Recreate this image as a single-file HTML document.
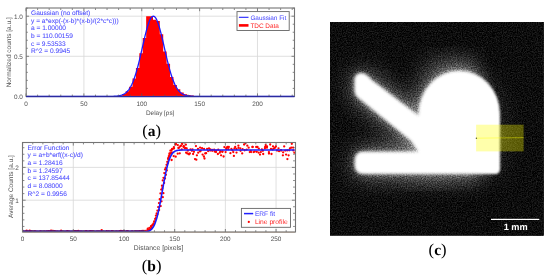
<!DOCTYPE html>
<html><head><meta charset="utf-8"><title>Figure</title>
<style>html,body{margin:0;padding:0;background:#fff;}body{width:550px;height:280px;overflow:hidden;}svg{display:block;}</style>
</head><body>
<svg width="550" height="280" viewBox="0 0 550 280" text-rendering="geometricPrecision">
<defs>
<filter id="blur1" x="-20%" y="-20%" width="140%" height="140%"><feGaussianBlur stdDeviation="1.7"/></filter>
<filter id="halo" x="-50%" y="-50%" width="200%" height="200%"><feGaussianBlur stdDeviation="13"/></filter>
<filter id="halo2" x="-50%" y="-50%" width="200%" height="200%"><feGaussianBlur stdDeviation="5"/></filter>
<filter id="noise" x="0" y="0" width="100%" height="100%">
  <feTurbulence type="fractalNoise" baseFrequency="0.75" numOctaves="2" seed="3" result="t"/>
  <feColorMatrix in="t" type="matrix" values="0 0 0 0 1  0 0 0 0 1  0 0 0 0 1  0.5 0 0 0 -0.2" />
</filter>
<clipPath id="clipA"><rect x="26.03" y="8.2" width="268.47" height="88.2"/></clipPath>
<clipPath id="clipB"><rect x="22.62" y="142.6" width="272.28" height="89.4"/></clipPath>
<clipPath id="clipC"><rect x="330" y="22" width="213.6" height="213.6"/></clipPath>
</defs>
<rect width="550" height="280" fill="#fff"/>
<g font-family="'Liberation Sans', Arial, sans-serif"><line x1="83.9" y1="8.2" x2="83.9" y2="96.4" stroke="#d8d8d8" stroke-width="0.8"/>
<line x1="141.76" y1="8.2" x2="141.76" y2="96.4" stroke="#d8d8d8" stroke-width="0.8"/>
<line x1="199.62" y1="8.2" x2="199.62" y2="96.4" stroke="#d8d8d8" stroke-width="0.8"/>
<line x1="257.49" y1="8.2" x2="257.49" y2="96.4" stroke="#d8d8d8" stroke-width="0.8"/>
<line x1="26.03" y1="56.3" x2="294.5" y2="56.3" stroke="#d8d8d8" stroke-width="0.8"/>
<line x1="26.03" y1="16.2" x2="294.5" y2="16.2" stroke="#d8d8d8" stroke-width="0.8"/>
<path d="M115.43,96.4 L115.43,96.03 L118.85,96.03 L118.85,95.39 L122.26,95.39 L122.26,94.05 L125.67,94.05 L125.67,91.19 L129.09,91.19 L129.09,86.75 L132.5,86.75 L132.5,78.58 L135.92,78.58 L135.92,67.89 L139.33,67.89 L139.33,53.15 L142.74,53.15 L142.74,38.06 L146.16,38.06 L146.16,16.2 L149.57,16.2 L149.57,16.2 L152.99,16.2 L152.99,19.81 L156.4,19.81 L156.4,20.93 L159.81,20.93 L159.81,34.2 L163.23,34.2 L163.23,51.5 L166.64,51.5 L166.64,63.86 L170.06,63.86 L170.06,77.09 L173.47,77.09 L173.47,84.98 L176.88,84.98 L176.88,89.17 L180.3,89.17 L180.3,92.58 L183.71,92.58 L183.71,94.31 L187.13,94.31 L187.13,95.1 L190.54,95.1 L190.54,95.42 L193.95,95.42 L193.95,96.4 Z" fill="#ff0000" clip-path="url(#clipA)"/>
<polyline points="26.03,96.4 26.61,96.4 27.19,96.4 27.77,96.4 28.34,96.4 28.92,96.4 29.5,96.4 30.08,96.4 30.66,96.4 31.24,96.4 31.82,96.4 32.4,96.4 32.97,96.4 33.55,96.4 34.13,96.4 34.71,96.4 35.29,96.4 35.87,96.4 36.45,96.4 37.02,96.4 37.6,96.4 38.18,96.4 38.76,96.4 39.34,96.4 39.92,96.4 40.5,96.4 41.07,96.4 41.65,96.4 42.23,96.4 42.81,96.4 43.39,96.4 43.97,96.4 44.55,96.4 45.13,96.4 45.7,96.4 46.28,96.4 46.86,96.4 47.44,96.4 48.02,96.4 48.6,96.4 49.18,96.4 49.75,96.4 50.33,96.4 50.91,96.4 51.49,96.4 52.07,96.4 52.65,96.4 53.23,96.4 53.81,96.4 54.38,96.4 54.96,96.4 55.54,96.4 56.12,96.4 56.7,96.4 57.28,96.4 57.86,96.4 58.43,96.4 59.01,96.4 59.59,96.4 60.17,96.4 60.75,96.4 61.33,96.4 61.91,96.4 62.48,96.4 63.06,96.4 63.64,96.4 64.22,96.4 64.8,96.4 65.38,96.4 65.96,96.4 66.54,96.4 67.11,96.4 67.69,96.4 68.27,96.4 68.85,96.4 69.43,96.4 70.01,96.4 70.59,96.4 71.16,96.4 71.74,96.4 72.32,96.4 72.9,96.4 73.48,96.4 74.06,96.4 74.64,96.4 75.22,96.4 75.79,96.4 76.37,96.4 76.95,96.4 77.53,96.4 78.11,96.4 78.69,96.4 79.27,96.4 79.84,96.4 80.42,96.4 81,96.4 81.58,96.4 82.16,96.4 82.74,96.4 83.32,96.4 83.9,96.4 84.47,96.4 85.05,96.4 85.63,96.4 86.21,96.4 86.79,96.4 87.37,96.4 87.95,96.4 88.52,96.4 89.1,96.4 89.68,96.4 90.26,96.4 90.84,96.4 91.42,96.4 92,96.4 92.57,96.4 93.15,96.4 93.73,96.4 94.31,96.4 94.89,96.4 95.47,96.4 96.05,96.4 96.63,96.4 97.2,96.4 97.78,96.4 98.36,96.4 98.94,96.4 99.52,96.4 100.1,96.4 100.68,96.4 101.25,96.4 101.83,96.4 102.41,96.4 102.99,96.4 103.57,96.4 104.15,96.4 104.73,96.4 105.31,96.39 105.88,96.39 106.46,96.39 107.04,96.39 107.62,96.38 108.2,96.38 108.78,96.38 109.36,96.37 109.93,96.36 110.51,96.36 111.09,96.35 111.67,96.34 112.25,96.32 112.83,96.3 113.41,96.28 113.98,96.26 114.56,96.23 115.14,96.2 115.72,96.16 116.3,96.11 116.88,96.06 117.46,95.99 118.04,95.92 118.61,95.83 119.19,95.73 119.77,95.61 120.35,95.48 120.93,95.32 121.51,95.15 122.09,94.94 122.66,94.71 123.24,94.45 123.82,94.16 124.4,93.82 124.98,93.45 125.56,93.02 126.14,92.55 126.72,92.03 127.29,91.45 127.87,90.8 128.45,90.09 129.03,89.31 129.61,88.45 130.19,87.51 130.77,86.49 131.34,85.39 131.92,84.19 132.5,82.9 133.08,81.52 133.66,80.04 134.24,78.46 134.82,76.78 135.39,75.01 135.97,73.14 136.55,71.17 137.13,69.11 137.71,66.97 138.29,64.74 138.87,62.44 139.45,60.08 140.02,57.65 140.6,55.18 141.18,52.67 141.76,50.13 142.34,47.58 142.92,45.04 143.5,42.5 144.07,40 144.65,37.55 145.23,35.15 145.81,32.83 146.39,30.61 146.97,28.5 147.55,26.51 148.13,24.66 148.7,22.96 149.28,21.43 149.86,20.08 150.44,18.91 151.02,17.95 151.6,17.19 152.18,16.64 152.75,16.31 153.33,16.2 153.91,16.31 154.49,16.64 155.07,17.18 155.65,17.94 156.23,18.91 156.8,20.07 157.38,21.42 157.96,22.95 158.54,24.65 159.12,26.5 159.7,28.48 160.28,30.6 160.86,32.82 161.43,35.14 162.01,37.53 162.59,39.99 163.17,42.49 163.75,45.02 164.33,47.57 164.91,50.12 165.48,52.65 166.06,55.16 166.64,57.64 167.22,60.06 167.8,62.43 168.38,64.73 168.96,66.95 169.54,69.1 170.11,71.16 170.69,73.12 171.27,75 171.85,76.77 172.43,78.45 173.01,80.03 173.59,81.51 174.16,82.89 174.74,84.18 175.32,85.38 175.9,86.49 176.48,87.51 177.06,88.44 177.64,89.3 178.21,90.09 178.79,90.8 179.37,91.44 179.95,92.03 180.53,92.55 181.11,93.02 181.69,93.44 182.27,93.82 182.84,94.15 183.42,94.45 184,94.71 184.58,94.94 185.16,95.15 185.74,95.32 186.32,95.48 186.89,95.61 187.47,95.73 188.05,95.83 188.63,95.92 189.21,95.99 189.79,96.06 190.37,96.11 190.95,96.16 191.52,96.2 192.1,96.23 192.68,96.26 193.26,96.28 193.84,96.3 194.42,96.32 195,96.34 195.57,96.35 196.15,96.36 196.73,96.36 197.31,96.37 197.89,96.38 198.47,96.38 199.05,96.38 199.62,96.39 200.2,96.39 200.78,96.39 201.36,96.39 201.94,96.4 202.52,96.4 203.1,96.4 203.68,96.4 204.25,96.4 204.83,96.4 205.41,96.4 205.99,96.4 206.57,96.4 207.15,96.4 207.73,96.4 208.3,96.4 208.88,96.4 209.46,96.4 210.04,96.4 210.62,96.4 211.2,96.4 211.78,96.4 212.36,96.4 212.93,96.4 213.51,96.4 214.09,96.4 214.67,96.4 215.25,96.4 215.83,96.4 216.41,96.4 216.98,96.4 217.56,96.4 218.14,96.4 218.72,96.4 219.3,96.4 219.88,96.4 220.46,96.4 221.04,96.4 221.61,96.4 222.19,96.4 222.77,96.4 223.35,96.4 223.93,96.4 224.51,96.4 225.09,96.4 225.66,96.4 226.24,96.4 226.82,96.4 227.4,96.4 227.98,96.4 228.56,96.4 229.14,96.4 229.71,96.4 230.29,96.4 230.87,96.4 231.45,96.4 232.03,96.4 232.61,96.4 233.19,96.4 233.77,96.4 234.34,96.4 234.92,96.4 235.5,96.4 236.08,96.4 236.66,96.4 237.24,96.4 237.82,96.4 238.39,96.4 238.97,96.4 239.55,96.4 240.13,96.4 240.71,96.4 241.29,96.4 241.87,96.4 242.45,96.4 243.02,96.4 243.6,96.4 244.18,96.4 244.76,96.4 245.34,96.4 245.92,96.4 246.5,96.4 247.07,96.4 247.65,96.4 248.23,96.4 248.81,96.4 249.39,96.4 249.97,96.4 250.55,96.4 251.12,96.4 251.7,96.4 252.28,96.4 252.86,96.4 253.44,96.4 254.02,96.4 254.6,96.4 255.18,96.4 255.75,96.4 256.33,96.4 256.91,96.4 257.49,96.4 258.07,96.4 258.65,96.4 259.23,96.4 259.8,96.4 260.38,96.4 260.96,96.4 261.54,96.4 262.12,96.4 262.7,96.4 263.28,96.4 263.86,96.4 264.43,96.4 265.01,96.4 265.59,96.4 266.17,96.4 266.75,96.4 267.33,96.4 267.91,96.4 268.48,96.4 269.06,96.4 269.64,96.4 270.22,96.4 270.8,96.4 271.38,96.4 271.96,96.4 272.53,96.4 273.11,96.4 273.69,96.4 274.27,96.4 274.85,96.4 275.43,96.4 276.01,96.4 276.59,96.4 277.16,96.4 277.74,96.4 278.32,96.4 278.9,96.4 279.48,96.4 280.06,96.4 280.64,96.4 281.21,96.4 281.79,96.4 282.37,96.4 282.95,96.4 283.53,96.4 284.11,96.4 284.69,96.4 285.27,96.4 285.84,96.4 286.42,96.4 287,96.4 287.58,96.4 288.16,96.4 288.74,96.4 289.32,96.4 289.89,96.4 290.47,96.4 291.05,96.4 291.63,96.4 292.21,96.4 292.79,96.4 293.37,96.4 293.94,96.4" fill="none" stroke="#1a1aff" stroke-width="1.3" clip-path="url(#clipA)"/>
<line x1="26.03" y1="8.2" x2="26.03" y2="11.2" stroke="#555" stroke-width="0.7"/>
<line x1="26.03" y1="96.4" x2="26.03" y2="93.4" stroke="#555" stroke-width="0.7"/>
<line x1="37.6" y1="8.2" x2="37.6" y2="10" stroke="#555" stroke-width="0.7"/>
<line x1="37.6" y1="96.4" x2="37.6" y2="94.6" stroke="#555" stroke-width="0.7"/>
<line x1="49.18" y1="8.2" x2="49.18" y2="10" stroke="#555" stroke-width="0.7"/>
<line x1="49.18" y1="96.4" x2="49.18" y2="94.6" stroke="#555" stroke-width="0.7"/>
<line x1="60.75" y1="8.2" x2="60.75" y2="10" stroke="#555" stroke-width="0.7"/>
<line x1="60.75" y1="96.4" x2="60.75" y2="94.6" stroke="#555" stroke-width="0.7"/>
<line x1="72.32" y1="8.2" x2="72.32" y2="10" stroke="#555" stroke-width="0.7"/>
<line x1="72.32" y1="96.4" x2="72.32" y2="94.6" stroke="#555" stroke-width="0.7"/>
<line x1="83.9" y1="8.2" x2="83.9" y2="11.2" stroke="#555" stroke-width="0.7"/>
<line x1="83.9" y1="96.4" x2="83.9" y2="93.4" stroke="#555" stroke-width="0.7"/>
<line x1="95.47" y1="8.2" x2="95.47" y2="10" stroke="#555" stroke-width="0.7"/>
<line x1="95.47" y1="96.4" x2="95.47" y2="94.6" stroke="#555" stroke-width="0.7"/>
<line x1="107.04" y1="8.2" x2="107.04" y2="10" stroke="#555" stroke-width="0.7"/>
<line x1="107.04" y1="96.4" x2="107.04" y2="94.6" stroke="#555" stroke-width="0.7"/>
<line x1="118.61" y1="8.2" x2="118.61" y2="10" stroke="#555" stroke-width="0.7"/>
<line x1="118.61" y1="96.4" x2="118.61" y2="94.6" stroke="#555" stroke-width="0.7"/>
<line x1="130.19" y1="8.2" x2="130.19" y2="10" stroke="#555" stroke-width="0.7"/>
<line x1="130.19" y1="96.4" x2="130.19" y2="94.6" stroke="#555" stroke-width="0.7"/>
<line x1="141.76" y1="8.2" x2="141.76" y2="11.2" stroke="#555" stroke-width="0.7"/>
<line x1="141.76" y1="96.4" x2="141.76" y2="93.4" stroke="#555" stroke-width="0.7"/>
<line x1="153.33" y1="8.2" x2="153.33" y2="10" stroke="#555" stroke-width="0.7"/>
<line x1="153.33" y1="96.4" x2="153.33" y2="94.6" stroke="#555" stroke-width="0.7"/>
<line x1="164.91" y1="8.2" x2="164.91" y2="10" stroke="#555" stroke-width="0.7"/>
<line x1="164.91" y1="96.4" x2="164.91" y2="94.6" stroke="#555" stroke-width="0.7"/>
<line x1="176.48" y1="8.2" x2="176.48" y2="10" stroke="#555" stroke-width="0.7"/>
<line x1="176.48" y1="96.4" x2="176.48" y2="94.6" stroke="#555" stroke-width="0.7"/>
<line x1="188.05" y1="8.2" x2="188.05" y2="10" stroke="#555" stroke-width="0.7"/>
<line x1="188.05" y1="96.4" x2="188.05" y2="94.6" stroke="#555" stroke-width="0.7"/>
<line x1="199.62" y1="8.2" x2="199.62" y2="11.2" stroke="#555" stroke-width="0.7"/>
<line x1="199.62" y1="96.4" x2="199.62" y2="93.4" stroke="#555" stroke-width="0.7"/>
<line x1="211.2" y1="8.2" x2="211.2" y2="10" stroke="#555" stroke-width="0.7"/>
<line x1="211.2" y1="96.4" x2="211.2" y2="94.6" stroke="#555" stroke-width="0.7"/>
<line x1="222.77" y1="8.2" x2="222.77" y2="10" stroke="#555" stroke-width="0.7"/>
<line x1="222.77" y1="96.4" x2="222.77" y2="94.6" stroke="#555" stroke-width="0.7"/>
<line x1="234.34" y1="8.2" x2="234.34" y2="10" stroke="#555" stroke-width="0.7"/>
<line x1="234.34" y1="96.4" x2="234.34" y2="94.6" stroke="#555" stroke-width="0.7"/>
<line x1="245.92" y1="8.2" x2="245.92" y2="10" stroke="#555" stroke-width="0.7"/>
<line x1="245.92" y1="96.4" x2="245.92" y2="94.6" stroke="#555" stroke-width="0.7"/>
<line x1="257.49" y1="8.2" x2="257.49" y2="11.2" stroke="#555" stroke-width="0.7"/>
<line x1="257.49" y1="96.4" x2="257.49" y2="93.4" stroke="#555" stroke-width="0.7"/>
<line x1="269.06" y1="8.2" x2="269.06" y2="10" stroke="#555" stroke-width="0.7"/>
<line x1="269.06" y1="96.4" x2="269.06" y2="94.6" stroke="#555" stroke-width="0.7"/>
<line x1="280.64" y1="8.2" x2="280.64" y2="10" stroke="#555" stroke-width="0.7"/>
<line x1="280.64" y1="96.4" x2="280.64" y2="94.6" stroke="#555" stroke-width="0.7"/>
<line x1="292.21" y1="8.2" x2="292.21" y2="10" stroke="#555" stroke-width="0.7"/>
<line x1="292.21" y1="96.4" x2="292.21" y2="94.6" stroke="#555" stroke-width="0.7"/>
<line x1="26.03" y1="96.4" x2="29.03" y2="96.4" stroke="#555" stroke-width="0.7"/>
<line x1="294.5" y1="96.4" x2="291.5" y2="96.4" stroke="#555" stroke-width="0.7"/>
<line x1="26.03" y1="88.38" x2="27.83" y2="88.38" stroke="#555" stroke-width="0.7"/>
<line x1="294.5" y1="88.38" x2="292.7" y2="88.38" stroke="#555" stroke-width="0.7"/>
<line x1="26.03" y1="80.36" x2="27.83" y2="80.36" stroke="#555" stroke-width="0.7"/>
<line x1="294.5" y1="80.36" x2="292.7" y2="80.36" stroke="#555" stroke-width="0.7"/>
<line x1="26.03" y1="72.34" x2="27.83" y2="72.34" stroke="#555" stroke-width="0.7"/>
<line x1="294.5" y1="72.34" x2="292.7" y2="72.34" stroke="#555" stroke-width="0.7"/>
<line x1="26.03" y1="64.32" x2="27.83" y2="64.32" stroke="#555" stroke-width="0.7"/>
<line x1="294.5" y1="64.32" x2="292.7" y2="64.32" stroke="#555" stroke-width="0.7"/>
<line x1="26.03" y1="56.3" x2="29.03" y2="56.3" stroke="#555" stroke-width="0.7"/>
<line x1="294.5" y1="56.3" x2="291.5" y2="56.3" stroke="#555" stroke-width="0.7"/>
<line x1="26.03" y1="48.28" x2="27.83" y2="48.28" stroke="#555" stroke-width="0.7"/>
<line x1="294.5" y1="48.28" x2="292.7" y2="48.28" stroke="#555" stroke-width="0.7"/>
<line x1="26.03" y1="40.26" x2="27.83" y2="40.26" stroke="#555" stroke-width="0.7"/>
<line x1="294.5" y1="40.26" x2="292.7" y2="40.26" stroke="#555" stroke-width="0.7"/>
<line x1="26.03" y1="32.24" x2="27.83" y2="32.24" stroke="#555" stroke-width="0.7"/>
<line x1="294.5" y1="32.24" x2="292.7" y2="32.24" stroke="#555" stroke-width="0.7"/>
<line x1="26.03" y1="24.22" x2="27.83" y2="24.22" stroke="#555" stroke-width="0.7"/>
<line x1="294.5" y1="24.22" x2="292.7" y2="24.22" stroke="#555" stroke-width="0.7"/>
<line x1="26.03" y1="16.2" x2="29.03" y2="16.2" stroke="#555" stroke-width="0.7"/>
<line x1="294.5" y1="16.2" x2="291.5" y2="16.2" stroke="#555" stroke-width="0.7"/>
<line x1="26.03" y1="8.18" x2="27.83" y2="8.18" stroke="#555" stroke-width="0.7"/>
<line x1="294.5" y1="8.18" x2="292.7" y2="8.18" stroke="#555" stroke-width="0.7"/>
<rect x="26.2" y="8.0" width="268.3" height="88.4" fill="none" stroke="#747474" stroke-width="1.1"/>
<line x1="26.03" y1="96.6" x2="294.5" y2="96.6" stroke="#2a2aa0" stroke-width="1.3"/>
<text x="31" y="14.9" font-size="6.6" fill="#4848ff" stroke="#4848ff" stroke-width="0.06">Gaussian (no offset)</text>
<text x="31" y="22.6" font-size="6.6" fill="#4848ff" stroke="#4848ff" stroke-width="0.06">y = a*exp(-(x-b)*(x-b)/(2*c*c)))</text>
<text x="31" y="30.3" font-size="6.6" fill="#4848ff" stroke="#4848ff" stroke-width="0.06">a = 1.00000</text>
<text x="31" y="38" font-size="6.6" fill="#4848ff" stroke="#4848ff" stroke-width="0.06">b = 110.00159</text>
<text x="31" y="45.7" font-size="6.6" fill="#4848ff" stroke="#4848ff" stroke-width="0.06">c = 9.53533</text>
<text x="31" y="53.4" font-size="6.6" fill="#4848ff" stroke="#4848ff" stroke-width="0.06">R^2 = 0.9945</text>
<rect x="237" y="11.6" width="52.2" height="18.9" fill="#fff" stroke="#666" stroke-width="0.9"/>
<line x1="238.9" y1="17.3" x2="248.5" y2="17.3" stroke="#2020ff" stroke-width="1.1"/>
<rect x="238.9" y="24.1" width="9.6" height="2.6" fill="#ff0000"/>
<text x="250.4" y="19.6" font-size="6.4" fill="#4040ff">Gaussian Fit</text>
<text x="250.4" y="27.6" font-size="6.4" fill="#ff2020">TDC Data</text>
<text x="22.9" y="18.5" font-size="6.4" fill="#505050" text-anchor="end">1.0</text>
<text x="22.9" y="58.6" font-size="6.4" fill="#505050" text-anchor="end">0.5</text>
<text x="22.9" y="98.7" font-size="6.4" fill="#505050" text-anchor="end">0.0</text>
<text x="26.03" y="105.9" font-size="6.4" fill="#505050" text-anchor="middle">0</text>
<text x="83.9" y="105.9" font-size="6.4" fill="#505050" text-anchor="middle">50</text>
<text x="141.76" y="105.9" font-size="6.4" fill="#505050" text-anchor="middle">100</text>
<text x="199.62" y="105.9" font-size="6.4" fill="#505050" text-anchor="middle">150</text>
<text x="257.49" y="105.9" font-size="6.4" fill="#505050" text-anchor="middle">200</text>
<text x="160.2" y="114.8" font-size="6.4" fill="#505050" text-anchor="middle">Delay [ps]</text>
<text transform="translate(10.9,52.3) rotate(-90)" x="0" y="0" font-size="6.5" fill="#505050" text-anchor="middle">Normalized counts [a.u.]</text></g>
<g font-family="'Liberation Sans', Arial, sans-serif"><line x1="73.31" y1="142.6" x2="73.31" y2="232.0" stroke="#d8d8d8" stroke-width="0.8"/>
<line x1="123.99" y1="142.6" x2="123.99" y2="232.0" stroke="#d8d8d8" stroke-width="0.8"/>
<line x1="174.68" y1="142.6" x2="174.68" y2="232.0" stroke="#d8d8d8" stroke-width="0.8"/>
<line x1="225.36" y1="142.6" x2="225.36" y2="232.0" stroke="#d8d8d8" stroke-width="0.8"/>
<line x1="276.05" y1="142.6" x2="276.05" y2="232.0" stroke="#d8d8d8" stroke-width="0.8"/>
<line x1="22.62" y1="200.2" x2="294.9" y2="200.2" stroke="#d8d8d8" stroke-width="0.8"/>
<line x1="22.62" y1="167.4" x2="294.9" y2="167.4" stroke="#d8d8d8" stroke-width="0.8"/>
<g fill="#ff0000" clip-path="url(#clipB)"><circle cx="22.62" cy="232.23" r="1.15"/><circle cx="23.63" cy="231.6" r="1.15"/><circle cx="24.65" cy="232.27" r="1.15"/><circle cx="25.66" cy="231.77" r="1.15"/><circle cx="26.67" cy="230.53" r="1.15"/><circle cx="27.69" cy="231.8" r="1.15"/><circle cx="28.7" cy="231.59" r="1.15"/><circle cx="29.72" cy="230.67" r="1.15"/><circle cx="30.73" cy="231.46" r="1.15"/><circle cx="31.74" cy="231.41" r="1.15"/><circle cx="32.76" cy="231.88" r="1.15"/><circle cx="33.77" cy="231.77" r="1.15"/><circle cx="34.78" cy="231.32" r="1.15"/><circle cx="35.8" cy="231.66" r="1.15"/><circle cx="36.81" cy="232.31" r="1.15"/><circle cx="37.83" cy="231.81" r="1.15"/><circle cx="38.84" cy="232.05" r="1.15"/><circle cx="39.85" cy="231.66" r="1.15"/><circle cx="40.87" cy="231.42" r="1.15"/><circle cx="41.88" cy="232.27" r="1.15"/><circle cx="42.89" cy="231.78" r="1.15"/><circle cx="43.91" cy="231.6" r="1.15"/><circle cx="44.92" cy="231.53" r="1.15"/><circle cx="45.94" cy="232.07" r="1.15"/><circle cx="46.95" cy="231.48" r="1.15"/><circle cx="47.96" cy="231.75" r="1.15"/><circle cx="48.98" cy="231.19" r="1.15"/><circle cx="49.99" cy="232.22" r="1.15"/><circle cx="51" cy="230.57" r="1.15"/><circle cx="52.02" cy="230.87" r="1.15"/><circle cx="53.03" cy="230.86" r="1.15"/><circle cx="54.04" cy="231.09" r="1.15"/><circle cx="55.06" cy="231.49" r="1.15"/><circle cx="56.07" cy="231.99" r="1.15"/><circle cx="57.09" cy="231.66" r="1.15"/><circle cx="58.1" cy="231.87" r="1.15"/><circle cx="59.11" cy="231.9" r="1.15"/><circle cx="60.13" cy="231.88" r="1.15"/><circle cx="61.14" cy="230.71" r="1.15"/><circle cx="62.15" cy="231.54" r="1.15"/><circle cx="63.17" cy="231.93" r="1.15"/><circle cx="64.18" cy="231.86" r="1.15"/><circle cx="65.2" cy="231.89" r="1.15"/><circle cx="66.21" cy="231.78" r="1.15"/><circle cx="67.22" cy="231.07" r="1.15"/><circle cx="68.24" cy="231.59" r="1.15"/><circle cx="69.25" cy="231.67" r="1.15"/><circle cx="70.26" cy="232.05" r="1.15"/><circle cx="71.28" cy="231.97" r="1.15"/><circle cx="72.29" cy="232.26" r="1.15"/><circle cx="73.31" cy="231.69" r="1.15"/><circle cx="74.32" cy="231.26" r="1.15"/><circle cx="75.33" cy="231.04" r="1.15"/><circle cx="76.35" cy="231.51" r="1.15"/><circle cx="77.36" cy="231.15" r="1.15"/><circle cx="78.37" cy="230.97" r="1.15"/><circle cx="79.39" cy="232" r="1.15"/><circle cx="80.4" cy="231.66" r="1.15"/><circle cx="81.41" cy="231.68" r="1.15"/><circle cx="82.43" cy="231.83" r="1.15"/><circle cx="83.44" cy="232.04" r="1.15"/><circle cx="84.46" cy="231.81" r="1.15"/><circle cx="85.47" cy="231.28" r="1.15"/><circle cx="86.48" cy="231.25" r="1.15"/><circle cx="87.5" cy="231.99" r="1.15"/><circle cx="88.51" cy="231.96" r="1.15"/><circle cx="89.52" cy="231.44" r="1.15"/><circle cx="90.54" cy="231.15" r="1.15"/><circle cx="91.55" cy="231.41" r="1.15"/><circle cx="92.57" cy="231.49" r="1.15"/><circle cx="93.58" cy="231.47" r="1.15"/><circle cx="94.59" cy="232.08" r="1.15"/><circle cx="95.61" cy="232.25" r="1.15"/><circle cx="96.62" cy="231.67" r="1.15"/><circle cx="97.63" cy="231.73" r="1.15"/><circle cx="98.65" cy="231.67" r="1.15"/><circle cx="99.66" cy="231.77" r="1.15"/><circle cx="100.67" cy="231.79" r="1.15"/><circle cx="101.69" cy="230.03" r="1.15"/><circle cx="102.7" cy="231.93" r="1.15"/><circle cx="103.72" cy="231.8" r="1.15"/><circle cx="104.73" cy="232.36" r="1.15"/><circle cx="105.74" cy="232.1" r="1.15"/><circle cx="106.76" cy="231.27" r="1.15"/><circle cx="107.77" cy="232.35" r="1.15"/><circle cx="108.78" cy="231.4" r="1.15"/><circle cx="109.8" cy="232.02" r="1.15"/><circle cx="110.81" cy="232.02" r="1.15"/><circle cx="111.83" cy="231.26" r="1.15"/><circle cx="112.84" cy="231.48" r="1.15"/><circle cx="113.85" cy="231.8" r="1.15"/><circle cx="114.87" cy="232.13" r="1.15"/><circle cx="115.88" cy="231.53" r="1.15"/><circle cx="116.89" cy="231.75" r="1.15"/><circle cx="117.91" cy="231.84" r="1.15"/><circle cx="118.92" cy="231.67" r="1.15"/><circle cx="119.94" cy="231.14" r="1.15"/><circle cx="120.95" cy="231" r="1.15"/><circle cx="121.96" cy="231.93" r="1.15"/><circle cx="122.98" cy="231.18" r="1.15"/><circle cx="123.99" cy="231.27" r="1.15"/><circle cx="125" cy="232.07" r="1.15"/><circle cx="126.02" cy="232.02" r="1.15"/><circle cx="127.03" cy="231.23" r="1.15"/><circle cx="128.04" cy="231.45" r="1.15"/><circle cx="129.06" cy="232.57" r="1.15"/><circle cx="130.07" cy="232.04" r="1.15"/><circle cx="131.09" cy="231.92" r="1.15"/><circle cx="132.1" cy="231.35" r="1.15"/><circle cx="133.11" cy="232.4" r="1.15"/><circle cx="134.13" cy="231.79" r="1.15"/><circle cx="135.14" cy="231.51" r="1.15"/><circle cx="136.15" cy="231.66" r="1.15"/><circle cx="137.17" cy="231.35" r="1.15"/><circle cx="138.18" cy="232.05" r="1.15"/><circle cx="139.2" cy="231.05" r="1.15"/><circle cx="140.21" cy="231.65" r="1.15"/><circle cx="141.22" cy="231.24" r="1.15"/><circle cx="142.24" cy="232.2" r="1.15"/><circle cx="143.25" cy="231.65" r="1.15"/><circle cx="144.26" cy="231.69" r="1.15"/><circle cx="145.28" cy="230.79" r="1.15"/><circle cx="147.8" cy="228.6" r="1.15"/><circle cx="149.4" cy="227.8" r="1.15"/><circle cx="151" cy="226.2" r="1.15"/><circle cx="152.7" cy="224.6" r="1.15"/><circle cx="154.3" cy="221.4" r="1.15"/><circle cx="155.9" cy="218.1" r="1.15"/><circle cx="157.5" cy="214.1" r="1.15"/><circle cx="159.1" cy="210.1" r="1.15"/><circle cx="160.7" cy="206.1" r="1.15"/><circle cx="161.5" cy="201.3" r="1.15"/><circle cx="162.8" cy="197.2" r="1.15"/><circle cx="163.4" cy="193.2" r="1.15"/><circle cx="162.3" cy="188.2" r="1.15"/><circle cx="164.1" cy="182.9" r="1.15"/><circle cx="165" cy="178.4" r="1.15"/><circle cx="165.9" cy="174.8" r="1.15"/><circle cx="166.8" cy="170.4" r="1.15"/><circle cx="167.7" cy="163.2" r="1.15"/><circle cx="168.6" cy="157.9" r="1.15"/><circle cx="169.5" cy="154.3" r="1.15"/><circle cx="170.4" cy="150.7" r="1.15"/><circle cx="172.1" cy="148.9" r="1.15"/><circle cx="173.9" cy="147.1" r="1.15"/><circle cx="175.7" cy="144.5" r="1.15"/><circle cx="178.4" cy="148" r="1.15"/><circle cx="180.2" cy="146.3" r="1.15"/><circle cx="182" cy="143.6" r="1.15"/><circle cx="183.75" cy="147.1" r="1.15"/><circle cx="185.5" cy="148" r="1.15"/><circle cx="187.3" cy="153.4" r="1.15"/><circle cx="189.1" cy="154.3" r="1.15"/><circle cx="168.3" cy="159.7" r="1.15"/><circle cx="169.5" cy="153.4" r="1.15"/><circle cx="171.5" cy="150.2" r="1.15"/><circle cx="172.7" cy="148.9" r="1.15"/><circle cx="174" cy="148.3" r="1.15"/><circle cx="175.9" cy="143.8" r="1.15"/><circle cx="177.8" cy="145.1" r="1.15"/><circle cx="179.1" cy="147.6" r="1.15"/><circle cx="181" cy="145.7" r="1.15"/><circle cx="182.3" cy="143.8" r="1.15"/><circle cx="183.5" cy="146.4" r="1.15"/><circle cx="184.8" cy="148.3" r="1.15"/><circle cx="186.1" cy="152.7" r="1.15"/><circle cx="186.7" cy="148.3" r="1.15"/><circle cx="188.6" cy="154" r="1.15"/><circle cx="190.5" cy="149.5" r="1.15"/><circle cx="192.5" cy="149.5" r="1.15"/><circle cx="193.1" cy="154" r="1.15"/><circle cx="195" cy="159.1" r="1.15"/><circle cx="196.3" cy="159.7" r="1.15"/><circle cx="196.9" cy="155.3" r="1.15"/><circle cx="198.2" cy="152.7" r="1.15"/><circle cx="200.1" cy="147.6" r="1.15"/><circle cx="200.7" cy="150.8" r="1.15"/><circle cx="202.6" cy="154.6" r="1.15"/><circle cx="203.9" cy="156.5" r="1.15"/><circle cx="204.5" cy="158.5" r="1.15"/><circle cx="205.2" cy="153.4" r="1.15"/><circle cx="207.1" cy="148.9" r="1.15"/><circle cx="209" cy="148.3" r="1.15"/><circle cx="210.3" cy="149.5" r="1.15"/><circle cx="212.2" cy="150.8" r="1.15"/><circle cx="214.7" cy="151.5" r="1.15"/><circle cx="216" cy="152.1" r="1.15"/><circle cx="217.9" cy="154" r="1.15"/><circle cx="219.8" cy="152.7" r="1.15"/><circle cx="221.1" cy="155.3" r="1.15"/><circle cx="222.4" cy="151.5" r="1.15"/><circle cx="223.6" cy="156.5" r="1.15"/><circle cx="226.2" cy="148.3" r="1.15"/><circle cx="227.5" cy="147" r="1.15"/><circle cx="225.6" cy="152.1" r="1.15"/><circle cx="226.9" cy="147.6" r="1.15"/><circle cx="228.8" cy="147" r="1.15"/><circle cx="231.4" cy="148.9" r="1.15"/><circle cx="233.3" cy="152.1" r="1.15"/><circle cx="233.9" cy="155.9" r="1.15"/><circle cx="235.2" cy="147" r="1.15"/><circle cx="236.5" cy="148.9" r="1.15"/><circle cx="238.4" cy="145.7" r="1.15"/><circle cx="240.3" cy="148.3" r="1.15"/><circle cx="242.2" cy="153.4" r="1.15"/><circle cx="244.1" cy="144.5" r="1.15"/><circle cx="245.4" cy="143.2" r="1.15"/><circle cx="247.3" cy="145.7" r="1.15"/><circle cx="249.8" cy="152.1" r="1.15"/><circle cx="251.1" cy="152.1" r="1.15"/><circle cx="252.4" cy="147" r="1.15"/><circle cx="253.6" cy="152.1" r="1.15"/><circle cx="256.2" cy="147" r="1.15"/><circle cx="257.5" cy="147" r="1.15"/><circle cx="258.7" cy="152.7" r="1.15"/><circle cx="260" cy="154.6" r="1.15"/><circle cx="261.9" cy="149.5" r="1.15"/><circle cx="263.2" cy="154" r="1.15"/><circle cx="265.1" cy="147" r="1.15"/><circle cx="265.7" cy="145.1" r="1.15"/><circle cx="267" cy="146.4" r="1.15"/><circle cx="268.9" cy="152.1" r="1.15"/><circle cx="270.2" cy="144.5" r="1.15"/><circle cx="271.5" cy="154" r="1.15"/><circle cx="272.7" cy="149.5" r="1.15"/><circle cx="274" cy="148.3" r="1.15"/><circle cx="275.9" cy="146.4" r="1.15"/><circle cx="278.5" cy="148.3" r="1.15"/><circle cx="281" cy="150.2" r="1.15"/><circle cx="282.9" cy="155.3" r="1.15"/><circle cx="284.2" cy="146.4" r="1.15"/><circle cx="286.1" cy="154.6" r="1.15"/><circle cx="287.4" cy="159.1" r="1.15"/><circle cx="288.6" cy="155.3" r="1.15"/><circle cx="289.9" cy="148.3" r="1.15"/><circle cx="291.8" cy="143.8" r="1.15"/><circle cx="293.1" cy="147.6" r="1.15"/><circle cx="294.4" cy="152.7" r="1.15"/><circle cx="142.24" cy="231.02" r="1.15"/><circle cx="143" cy="231.06" r="1.15"/><circle cx="143.76" cy="230.99" r="1.15"/><circle cx="144.52" cy="231.58" r="1.15"/><circle cx="145.28" cy="231.52" r="1.15"/><circle cx="146.04" cy="231.54" r="1.15"/><circle cx="146.8" cy="231.41" r="1.15"/><circle cx="147.56" cy="229.9" r="1.15"/><circle cx="148.32" cy="231.71" r="1.15"/><circle cx="149.08" cy="229.91" r="1.15"/><circle cx="149.84" cy="229.58" r="1.15"/><circle cx="150.6" cy="228.86" r="1.15"/><circle cx="151.36" cy="227.47" r="1.15"/><circle cx="152.12" cy="225.65" r="1.15"/><circle cx="152.88" cy="224.93" r="1.15"/><circle cx="153.64" cy="223.38" r="1.15"/><circle cx="154.4" cy="221.68" r="1.15"/><circle cx="155.16" cy="219.02" r="1.15"/><circle cx="155.92" cy="215.66" r="1.15"/><circle cx="156.68" cy="213.5" r="1.15"/><circle cx="157.44" cy="210.66" r="1.15"/><circle cx="158.2" cy="207.11" r="1.15"/><circle cx="158.96" cy="203.12" r="1.15"/><circle cx="159.72" cy="199.23" r="1.15"/><circle cx="160.48" cy="193.39" r="1.15"/><circle cx="161.24" cy="189.61" r="1.15"/><circle cx="162" cy="185.74" r="1.15"/><circle cx="162.76" cy="180.44" r="1.15"/><circle cx="163.52" cy="177.8" r="1.15"/><circle cx="164.28" cy="173.05" r="1.15"/><circle cx="165.04" cy="169.46" r="1.15"/><circle cx="165.81" cy="167.75" r="1.15"/><circle cx="166.57" cy="164.82" r="1.15"/><circle cx="167.33" cy="161.82" r="1.15"/><circle cx="168.09" cy="158.36" r="1.15"/><circle cx="168.85" cy="156.18" r="1.15"/><circle cx="169.61" cy="156.21" r="1.15"/><circle cx="170.37" cy="153.38" r="1.15"/><circle cx="171.13" cy="153.24" r="1.15"/><circle cx="171.89" cy="152.38" r="1.15"/><circle cx="171.63" cy="160.01" r="1.15"/><circle cx="173.66" cy="156.1" r="1.15"/><circle cx="175.69" cy="156.72" r="1.15"/><circle cx="177.72" cy="153.67" r="1.15"/><circle cx="179.74" cy="153.3" r="1.15"/><circle cx="181.77" cy="149.45" r="1.15"/><circle cx="183.8" cy="146.08" r="1.15"/><circle cx="185.83" cy="144.71" r="1.15"/><circle cx="187.85" cy="150.7" r="1.15"/><circle cx="189.88" cy="153.41" r="1.15"/><circle cx="191.91" cy="150.82" r="1.15"/><circle cx="193.94" cy="151.86" r="1.15"/><circle cx="195.96" cy="146.11" r="1.15"/><circle cx="197.99" cy="148.89" r="1.15"/><circle cx="200.02" cy="151.45" r="1.15"/><circle cx="202.04" cy="148.17" r="1.15"/><circle cx="204.07" cy="148.96" r="1.15"/><circle cx="206.1" cy="153.21" r="1.15"/><circle cx="208.13" cy="151.06" r="1.15"/><circle cx="210.15" cy="150.48" r="1.15"/><circle cx="212.18" cy="149.97" r="1.15"/><circle cx="214.21" cy="149.75" r="1.15"/><circle cx="216.24" cy="150.68" r="1.15"/><circle cx="218.26" cy="149.64" r="1.15"/><circle cx="220.29" cy="151.17" r="1.15"/><circle cx="222.32" cy="151.78" r="1.15"/><circle cx="224.35" cy="147.03" r="1.15"/><circle cx="226.37" cy="149.3" r="1.15"/><circle cx="228.4" cy="149.15" r="1.15"/><circle cx="230.43" cy="153.15" r="1.15"/><circle cx="232.46" cy="150.34" r="1.15"/><circle cx="234.48" cy="148.4" r="1.15"/><circle cx="236.51" cy="152.55" r="1.15"/><circle cx="238.54" cy="147.85" r="1.15"/><circle cx="240.57" cy="150.78" r="1.15"/><circle cx="242.59" cy="149.22" r="1.15"/><circle cx="244.62" cy="150.27" r="1.15"/><circle cx="246.65" cy="149.58" r="1.15"/><circle cx="248.68" cy="147.64" r="1.15"/><circle cx="250.7" cy="150.81" r="1.15"/><circle cx="252.73" cy="146.93" r="1.15"/><circle cx="254.76" cy="151.55" r="1.15"/><circle cx="256.78" cy="151.85" r="1.15"/><circle cx="258.81" cy="148.61" r="1.15"/><circle cx="260.84" cy="152.11" r="1.15"/><circle cx="262.87" cy="150.74" r="1.15"/><circle cx="264.89" cy="148.23" r="1.15"/><circle cx="266.92" cy="147.63" r="1.15"/><circle cx="268.95" cy="153.5" r="1.15"/><circle cx="270.98" cy="149.02" r="1.15"/><circle cx="273" cy="146.3" r="1.15"/><circle cx="275.03" cy="147.66" r="1.15"/><circle cx="277.06" cy="150.48" r="1.15"/><circle cx="279.09" cy="151.19" r="1.15"/><circle cx="281.11" cy="150.6" r="1.15"/><circle cx="283.14" cy="152.28" r="1.15"/><circle cx="285.17" cy="150.53" r="1.15"/><circle cx="287.2" cy="150.38" r="1.15"/><circle cx="289.22" cy="150.3" r="1.15"/><circle cx="291.25" cy="147.68" r="1.15"/><circle cx="293.28" cy="150.46" r="1.15"/></g>
<polyline points="22.62,231.75 23.13,231.75 23.63,231.75 24.14,231.75 24.65,231.75 25.15,231.75 25.66,231.75 26.17,231.75 26.67,231.75 27.18,231.75 27.69,231.75 28.2,231.75 28.7,231.75 29.21,231.75 29.72,231.75 30.22,231.75 30.73,231.75 31.24,231.75 31.74,231.75 32.25,231.75 32.76,231.75 33.26,231.75 33.77,231.75 34.28,231.75 34.78,231.75 35.29,231.75 35.8,231.75 36.3,231.75 36.81,231.75 37.32,231.75 37.83,231.75 38.33,231.75 38.84,231.75 39.35,231.75 39.85,231.75 40.36,231.75 40.87,231.75 41.37,231.75 41.88,231.75 42.39,231.75 42.89,231.75 43.4,231.75 43.91,231.75 44.41,231.75 44.92,231.75 45.43,231.75 45.94,231.75 46.44,231.75 46.95,231.75 47.46,231.75 47.96,231.75 48.47,231.75 48.98,231.75 49.48,231.75 49.99,231.75 50.5,231.75 51,231.75 51.51,231.75 52.02,231.75 52.52,231.75 53.03,231.75 53.54,231.75 54.04,231.75 54.55,231.75 55.06,231.75 55.57,231.75 56.07,231.75 56.58,231.75 57.09,231.75 57.59,231.75 58.1,231.75 58.61,231.75 59.11,231.75 59.62,231.75 60.13,231.75 60.63,231.75 61.14,231.75 61.65,231.75 62.15,231.75 62.66,231.75 63.17,231.75 63.67,231.75 64.18,231.75 64.69,231.75 65.2,231.75 65.7,231.75 66.21,231.75 66.72,231.75 67.22,231.75 67.73,231.75 68.24,231.75 68.74,231.75 69.25,231.75 69.76,231.75 70.26,231.75 70.77,231.75 71.28,231.75 71.78,231.75 72.29,231.75 72.8,231.75 73.31,231.75 73.81,231.75 74.32,231.75 74.83,231.75 75.33,231.75 75.84,231.75 76.35,231.75 76.85,231.75 77.36,231.75 77.87,231.75 78.37,231.75 78.88,231.75 79.39,231.75 79.89,231.75 80.4,231.75 80.91,231.75 81.41,231.75 81.92,231.75 82.43,231.75 82.94,231.75 83.44,231.75 83.95,231.75 84.46,231.75 84.96,231.75 85.47,231.75 85.98,231.75 86.48,231.75 86.99,231.75 87.5,231.75 88,231.75 88.51,231.75 89.02,231.75 89.52,231.75 90.03,231.75 90.54,231.75 91.04,231.75 91.55,231.75 92.06,231.75 92.57,231.75 93.07,231.75 93.58,231.75 94.09,231.75 94.59,231.75 95.1,231.75 95.61,231.75 96.11,231.75 96.62,231.75 97.13,231.75 97.63,231.75 98.14,231.75 98.65,231.75 99.15,231.75 99.66,231.75 100.17,231.75 100.67,231.75 101.18,231.75 101.69,231.75 102.2,231.75 102.7,231.75 103.21,231.75 103.72,231.75 104.22,231.75 104.73,231.75 105.24,231.75 105.74,231.75 106.25,231.75 106.76,231.75 107.26,231.75 107.77,231.75 108.28,231.75 108.78,231.75 109.29,231.75 109.8,231.75 110.31,231.75 110.81,231.75 111.32,231.75 111.83,231.75 112.33,231.75 112.84,231.75 113.35,231.75 113.85,231.75 114.36,231.75 114.87,231.75 115.37,231.75 115.88,231.75 116.39,231.75 116.89,231.75 117.4,231.75 117.91,231.75 118.41,231.75 118.92,231.75 119.43,231.75 119.94,231.75 120.44,231.75 120.95,231.75 121.46,231.75 121.96,231.75 122.47,231.75 122.98,231.75 123.48,231.75 123.99,231.75 124.5,231.75 125,231.75 125.51,231.75 126.02,231.75 126.52,231.75 127.03,231.75 127.54,231.75 128.04,231.75 128.55,231.75 129.06,231.75 129.57,231.75 130.07,231.75 130.58,231.75 131.09,231.75 131.59,231.75 132.1,231.75 132.61,231.75 133.11,231.75 133.62,231.75 134.13,231.75 134.63,231.75 135.14,231.75 135.65,231.75 136.15,231.75 136.66,231.75 137.17,231.75 137.67,231.75 138.18,231.75 138.69,231.75 139.2,231.74 139.7,231.74 140.21,231.74 140.72,231.74 141.22,231.74 141.73,231.73 142.24,231.73 142.74,231.72 143.25,231.71 143.76,231.69 144.26,231.67 144.77,231.65 145.28,231.62 145.78,231.58 146.29,231.52 146.8,231.45 147.31,231.37 147.81,231.26 148.32,231.12 148.83,230.95 149.33,230.75 149.84,230.5 150.35,230.19 150.85,229.83 151.36,229.4 151.87,228.89 152.37,228.29 152.88,227.6 153.39,226.79 153.89,225.88 154.4,224.83 154.91,223.65 155.41,222.34 155.92,220.87 156.43,219.26 156.94,217.5 157.44,215.58 157.95,213.52 158.46,211.32 158.96,208.98 159.47,206.52 159.98,203.95 160.48,201.28 160.99,198.54 161.5,195.74 162,192.9 162.51,190.05 163.02,187.2 163.52,184.39 164.03,181.62 164.54,178.92 165.04,176.3 165.55,173.79 166.06,171.4 166.57,169.14 167.07,167.02 167.58,165.04 168.09,163.22 168.59,161.54 169.1,160.01 169.61,158.64 170.11,157.4 170.62,156.3 171.13,155.33 171.63,154.48 172.14,153.75 172.65,153.11 173.15,152.56 173.66,152.1 174.17,151.71 174.68,151.38 175.18,151.11 175.69,150.89 176.2,150.7 176.7,150.55 177.21,150.44 177.72,150.34 178.22,150.26 178.73,150.2 179.24,150.16 179.74,150.12 180.25,150.09 180.76,150.07 181.26,150.06 181.77,150.04 182.28,150.04 182.78,150.03 183.29,150.02 183.8,150.02 184.31,150.02 184.81,150.02 185.32,150.01 185.83,150.01 186.33,150.01 186.84,150.01 187.35,150.01 187.85,150.01 188.36,150.01 188.87,150.01 189.37,150.01 189.88,150.01 190.39,150.01 190.89,150.01 191.4,150.01 191.91,150.01 192.41,150.01 192.92,150.01 193.43,150.01 193.94,150.01 194.44,150.01 194.95,150.01 195.46,150.01 195.96,150.01 196.47,150.01 196.98,150.01 197.48,150.01 197.99,150.01 198.5,150.01 199,150.01 199.51,150.01 200.02,150.01 200.52,150.01 201.03,150.01 201.54,150.01 202.04,150.01 202.55,150.01 203.06,150.01 203.57,150.01 204.07,150.01 204.58,150.01 205.09,150.01 205.59,150.01 206.1,150.01 206.61,150.01 207.11,150.01 207.62,150.01 208.13,150.01 208.63,150.01 209.14,150.01 209.65,150.01 210.15,150.01 210.66,150.01 211.17,150.01 211.68,150.01 212.18,150.01 212.69,150.01 213.2,150.01 213.7,150.01 214.21,150.01 214.72,150.01 215.22,150.01 215.73,150.01 216.24,150.01 216.74,150.01 217.25,150.01 217.76,150.01 218.26,150.01 218.77,150.01 219.28,150.01 219.78,150.01 220.29,150.01 220.8,150.01 221.31,150.01 221.81,150.01 222.32,150.01 222.83,150.01 223.33,150.01 223.84,150.01 224.35,150.01 224.85,150.01 225.36,150.01 225.87,150.01 226.37,150.01 226.88,150.01 227.39,150.01 227.89,150.01 228.4,150.01 228.91,150.01 229.41,150.01 229.92,150.01 230.43,150.01 230.94,150.01 231.44,150.01 231.95,150.01 232.46,150.01 232.96,150.01 233.47,150.01 233.98,150.01 234.48,150.01 234.99,150.01 235.5,150.01 236,150.01 236.51,150.01 237.02,150.01 237.52,150.01 238.03,150.01 238.54,150.01 239.04,150.01 239.55,150.01 240.06,150.01 240.57,150.01 241.07,150.01 241.58,150.01 242.09,150.01 242.59,150.01 243.1,150.01 243.61,150.01 244.11,150.01 244.62,150.01 245.13,150.01 245.63,150.01 246.14,150.01 246.65,150.01 247.15,150.01 247.66,150.01 248.17,150.01 248.68,150.01 249.18,150.01 249.69,150.01 250.2,150.01 250.7,150.01 251.21,150.01 251.72,150.01 252.22,150.01 252.73,150.01 253.24,150.01 253.74,150.01 254.25,150.01 254.76,150.01 255.26,150.01 255.77,150.01 256.28,150.01 256.78,150.01 257.29,150.01 257.8,150.01 258.31,150.01 258.81,150.01 259.32,150.01 259.83,150.01 260.33,150.01 260.84,150.01 261.35,150.01 261.85,150.01 262.36,150.01 262.87,150.01 263.37,150.01 263.88,150.01 264.39,150.01 264.89,150.01 265.4,150.01 265.91,150.01 266.41,150.01 266.92,150.01 267.43,150.01 267.94,150.01 268.44,150.01 268.95,150.01 269.46,150.01 269.96,150.01 270.47,150.01 270.98,150.01 271.48,150.01 271.99,150.01 272.5,150.01 273,150.01 273.51,150.01 274.02,150.01 274.52,150.01 275.03,150.01 275.54,150.01 276.05,150.01 276.55,150.01 277.06,150.01 277.57,150.01 278.07,150.01 278.58,150.01 279.09,150.01 279.59,150.01 280.1,150.01 280.61,150.01 281.11,150.01 281.62,150.01 282.13,150.01 282.63,150.01 283.14,150.01 283.65,150.01 284.15,150.01 284.66,150.01 285.17,150.01 285.68,150.01 286.18,150.01 286.69,150.01 287.2,150.01 287.7,150.01 288.21,150.01 288.72,150.01 289.22,150.01 289.73,150.01 290.24,150.01 290.74,150.01 291.25,150.01 291.76,150.01 292.26,150.01 292.77,150.01 293.28,150.01 293.78,150.01 294.29,150.01 294.8,150.01" fill="none" stroke="#1a1aff" stroke-width="1.6" clip-path="url(#clipB)"/>
<line x1="22.62" y1="231.0" x2="144.26" y2="231.0" stroke="#3a1290" stroke-width="1.6"/>
<line x1="22.62" y1="232.3" x2="294.9" y2="232.3" stroke="#b89070" stroke-width="0.6"/>
<line x1="22.62" y1="142.6" x2="22.62" y2="145.6" stroke="#555" stroke-width="0.7"/>
<line x1="22.62" y1="232.0" x2="22.62" y2="229" stroke="#555" stroke-width="0.7"/>
<line x1="32.76" y1="142.6" x2="32.76" y2="144.4" stroke="#555" stroke-width="0.7"/>
<line x1="32.76" y1="232.0" x2="32.76" y2="230.2" stroke="#555" stroke-width="0.7"/>
<line x1="42.89" y1="142.6" x2="42.89" y2="144.4" stroke="#555" stroke-width="0.7"/>
<line x1="42.89" y1="232.0" x2="42.89" y2="230.2" stroke="#555" stroke-width="0.7"/>
<line x1="53.03" y1="142.6" x2="53.03" y2="144.4" stroke="#555" stroke-width="0.7"/>
<line x1="53.03" y1="232.0" x2="53.03" y2="230.2" stroke="#555" stroke-width="0.7"/>
<line x1="63.17" y1="142.6" x2="63.17" y2="144.4" stroke="#555" stroke-width="0.7"/>
<line x1="63.17" y1="232.0" x2="63.17" y2="230.2" stroke="#555" stroke-width="0.7"/>
<line x1="73.31" y1="142.6" x2="73.31" y2="145.6" stroke="#555" stroke-width="0.7"/>
<line x1="73.31" y1="232.0" x2="73.31" y2="229" stroke="#555" stroke-width="0.7"/>
<line x1="83.44" y1="142.6" x2="83.44" y2="144.4" stroke="#555" stroke-width="0.7"/>
<line x1="83.44" y1="232.0" x2="83.44" y2="230.2" stroke="#555" stroke-width="0.7"/>
<line x1="93.58" y1="142.6" x2="93.58" y2="144.4" stroke="#555" stroke-width="0.7"/>
<line x1="93.58" y1="232.0" x2="93.58" y2="230.2" stroke="#555" stroke-width="0.7"/>
<line x1="103.72" y1="142.6" x2="103.72" y2="144.4" stroke="#555" stroke-width="0.7"/>
<line x1="103.72" y1="232.0" x2="103.72" y2="230.2" stroke="#555" stroke-width="0.7"/>
<line x1="113.85" y1="142.6" x2="113.85" y2="144.4" stroke="#555" stroke-width="0.7"/>
<line x1="113.85" y1="232.0" x2="113.85" y2="230.2" stroke="#555" stroke-width="0.7"/>
<line x1="123.99" y1="142.6" x2="123.99" y2="145.6" stroke="#555" stroke-width="0.7"/>
<line x1="123.99" y1="232.0" x2="123.99" y2="229" stroke="#555" stroke-width="0.7"/>
<line x1="134.13" y1="142.6" x2="134.13" y2="144.4" stroke="#555" stroke-width="0.7"/>
<line x1="134.13" y1="232.0" x2="134.13" y2="230.2" stroke="#555" stroke-width="0.7"/>
<line x1="144.26" y1="142.6" x2="144.26" y2="144.4" stroke="#555" stroke-width="0.7"/>
<line x1="144.26" y1="232.0" x2="144.26" y2="230.2" stroke="#555" stroke-width="0.7"/>
<line x1="154.4" y1="142.6" x2="154.4" y2="144.4" stroke="#555" stroke-width="0.7"/>
<line x1="154.4" y1="232.0" x2="154.4" y2="230.2" stroke="#555" stroke-width="0.7"/>
<line x1="164.54" y1="142.6" x2="164.54" y2="144.4" stroke="#555" stroke-width="0.7"/>
<line x1="164.54" y1="232.0" x2="164.54" y2="230.2" stroke="#555" stroke-width="0.7"/>
<line x1="174.68" y1="142.6" x2="174.68" y2="145.6" stroke="#555" stroke-width="0.7"/>
<line x1="174.68" y1="232.0" x2="174.68" y2="229" stroke="#555" stroke-width="0.7"/>
<line x1="184.81" y1="142.6" x2="184.81" y2="144.4" stroke="#555" stroke-width="0.7"/>
<line x1="184.81" y1="232.0" x2="184.81" y2="230.2" stroke="#555" stroke-width="0.7"/>
<line x1="194.95" y1="142.6" x2="194.95" y2="144.4" stroke="#555" stroke-width="0.7"/>
<line x1="194.95" y1="232.0" x2="194.95" y2="230.2" stroke="#555" stroke-width="0.7"/>
<line x1="205.09" y1="142.6" x2="205.09" y2="144.4" stroke="#555" stroke-width="0.7"/>
<line x1="205.09" y1="232.0" x2="205.09" y2="230.2" stroke="#555" stroke-width="0.7"/>
<line x1="215.22" y1="142.6" x2="215.22" y2="144.4" stroke="#555" stroke-width="0.7"/>
<line x1="215.22" y1="232.0" x2="215.22" y2="230.2" stroke="#555" stroke-width="0.7"/>
<line x1="225.36" y1="142.6" x2="225.36" y2="145.6" stroke="#555" stroke-width="0.7"/>
<line x1="225.36" y1="232.0" x2="225.36" y2="229" stroke="#555" stroke-width="0.7"/>
<line x1="235.5" y1="142.6" x2="235.5" y2="144.4" stroke="#555" stroke-width="0.7"/>
<line x1="235.5" y1="232.0" x2="235.5" y2="230.2" stroke="#555" stroke-width="0.7"/>
<line x1="245.63" y1="142.6" x2="245.63" y2="144.4" stroke="#555" stroke-width="0.7"/>
<line x1="245.63" y1="232.0" x2="245.63" y2="230.2" stroke="#555" stroke-width="0.7"/>
<line x1="255.77" y1="142.6" x2="255.77" y2="144.4" stroke="#555" stroke-width="0.7"/>
<line x1="255.77" y1="232.0" x2="255.77" y2="230.2" stroke="#555" stroke-width="0.7"/>
<line x1="265.91" y1="142.6" x2="265.91" y2="144.4" stroke="#555" stroke-width="0.7"/>
<line x1="265.91" y1="232.0" x2="265.91" y2="230.2" stroke="#555" stroke-width="0.7"/>
<line x1="276.05" y1="142.6" x2="276.05" y2="145.6" stroke="#555" stroke-width="0.7"/>
<line x1="276.05" y1="232.0" x2="276.05" y2="229" stroke="#555" stroke-width="0.7"/>
<line x1="286.18" y1="142.6" x2="286.18" y2="144.4" stroke="#555" stroke-width="0.7"/>
<line x1="286.18" y1="232.0" x2="286.18" y2="230.2" stroke="#555" stroke-width="0.7"/>
<line x1="22.62" y1="226.44" x2="24.42" y2="226.44" stroke="#555" stroke-width="0.7"/>
<line x1="294.9" y1="226.44" x2="293.1" y2="226.44" stroke="#555" stroke-width="0.7"/>
<line x1="22.62" y1="219.88" x2="24.42" y2="219.88" stroke="#555" stroke-width="0.7"/>
<line x1="294.9" y1="219.88" x2="293.1" y2="219.88" stroke="#555" stroke-width="0.7"/>
<line x1="22.62" y1="213.32" x2="24.42" y2="213.32" stroke="#555" stroke-width="0.7"/>
<line x1="294.9" y1="213.32" x2="293.1" y2="213.32" stroke="#555" stroke-width="0.7"/>
<line x1="22.62" y1="206.76" x2="24.42" y2="206.76" stroke="#555" stroke-width="0.7"/>
<line x1="294.9" y1="206.76" x2="293.1" y2="206.76" stroke="#555" stroke-width="0.7"/>
<line x1="22.62" y1="200.2" x2="25.62" y2="200.2" stroke="#555" stroke-width="0.7"/>
<line x1="294.9" y1="200.2" x2="291.9" y2="200.2" stroke="#555" stroke-width="0.7"/>
<line x1="22.62" y1="193.64" x2="24.42" y2="193.64" stroke="#555" stroke-width="0.7"/>
<line x1="294.9" y1="193.64" x2="293.1" y2="193.64" stroke="#555" stroke-width="0.7"/>
<line x1="22.62" y1="187.08" x2="24.42" y2="187.08" stroke="#555" stroke-width="0.7"/>
<line x1="294.9" y1="187.08" x2="293.1" y2="187.08" stroke="#555" stroke-width="0.7"/>
<line x1="22.62" y1="180.52" x2="24.42" y2="180.52" stroke="#555" stroke-width="0.7"/>
<line x1="294.9" y1="180.52" x2="293.1" y2="180.52" stroke="#555" stroke-width="0.7"/>
<line x1="22.62" y1="173.96" x2="24.42" y2="173.96" stroke="#555" stroke-width="0.7"/>
<line x1="294.9" y1="173.96" x2="293.1" y2="173.96" stroke="#555" stroke-width="0.7"/>
<line x1="22.62" y1="167.4" x2="25.62" y2="167.4" stroke="#555" stroke-width="0.7"/>
<line x1="294.9" y1="167.4" x2="291.9" y2="167.4" stroke="#555" stroke-width="0.7"/>
<line x1="22.62" y1="160.84" x2="24.42" y2="160.84" stroke="#555" stroke-width="0.7"/>
<line x1="294.9" y1="160.84" x2="293.1" y2="160.84" stroke="#555" stroke-width="0.7"/>
<line x1="22.62" y1="154.28" x2="24.42" y2="154.28" stroke="#555" stroke-width="0.7"/>
<line x1="294.9" y1="154.28" x2="293.1" y2="154.28" stroke="#555" stroke-width="0.7"/>
<line x1="22.62" y1="147.72" x2="24.42" y2="147.72" stroke="#555" stroke-width="0.7"/>
<line x1="294.9" y1="147.72" x2="293.1" y2="147.72" stroke="#555" stroke-width="0.7"/>
<rect x="22.5" y="142.5" width="273" height="89.5" fill="none" stroke="#747474" stroke-width="1.1"/>
<text x="27.6" y="149.6" font-size="6.6" fill="#4848ff" stroke="#4848ff" stroke-width="0.06">Error Function</text>
<text x="27.6" y="157.3" font-size="6.6" fill="#4848ff" stroke="#4848ff" stroke-width="0.06">y = a+b*erf((x-c)/d)</text>
<text x="27.6" y="165" font-size="6.6" fill="#4848ff" stroke="#4848ff" stroke-width="0.06">a = 1.28416</text>
<text x="27.6" y="172.7" font-size="6.6" fill="#4848ff" stroke="#4848ff" stroke-width="0.06">b = 1.24597</text>
<text x="27.6" y="180.4" font-size="6.6" fill="#4848ff" stroke="#4848ff" stroke-width="0.06">c = 137.85444</text>
<text x="27.6" y="188.1" font-size="6.6" fill="#4848ff" stroke="#4848ff" stroke-width="0.06">d = 8.08000</text>
<text x="27.6" y="195.8" font-size="6.6" fill="#4848ff" stroke="#4848ff" stroke-width="0.06">R^2 = 0.9956</text>
<rect x="241.4" y="208.4" width="49.1" height="18.9" fill="#fff" stroke="#666" stroke-width="0.9"/>
<line x1="244" y1="213.6" x2="253.2" y2="213.6" stroke="#2020ff" stroke-width="1.5"/>
<circle cx="248.8" cy="221.9" r="1.1" fill="#ff0000"/>
<text x="254.9" y="215.9" font-size="6.6" fill="#4040ff">ERF fit</text>
<text x="254.9" y="224.2" font-size="6.7" fill="#ff2020">Line profile</text>
<text x="18.9" y="202.5" font-size="6.4" fill="#505050" text-anchor="end">1</text>
<text x="18.9" y="169.7" font-size="6.4" fill="#505050" text-anchor="end">2</text>
<text x="22.62" y="241.2" font-size="6.4" fill="#505050" text-anchor="middle">0</text>
<text x="73.31" y="241.2" font-size="6.4" fill="#505050" text-anchor="middle">50</text>
<text x="123.99" y="241.2" font-size="6.4" fill="#505050" text-anchor="middle">100</text>
<text x="174.68" y="241.2" font-size="6.4" fill="#505050" text-anchor="middle">150</text>
<text x="225.36" y="241.2" font-size="6.4" fill="#505050" text-anchor="middle">200</text>
<text x="276.05" y="241.2" font-size="6.4" fill="#505050" text-anchor="middle">250</text>
<text x="158.6" y="250" font-size="6.8" fill="#505050" text-anchor="middle">Distance [pixels]</text>
<text transform="translate(13,186.6) rotate(-90)" font-size="6.5" fill="#505050" text-anchor="middle">Average Counts [a.u.]</text></g>
<rect x="330" y="22" width="213.6" height="213.6" fill="#060606"/>
<defs>
<linearGradient id="gL" gradientUnits="userSpaceOnUse" x1="458" y1="0" x2="488" y2="0"><stop offset="0" stop-color="#fff"/><stop offset="1" stop-color="#000"/></linearGradient>
<linearGradient id="gR" gradientUnits="userSpaceOnUse" x1="470" y1="0" x2="496" y2="0"><stop offset="0" stop-color="#000"/><stop offset="1" stop-color="#fff"/></linearGradient>
<linearGradient id="gH" gradientUnits="userSpaceOnUse" x1="465" y1="0" x2="505" y2="0"><stop offset="0" stop-color="#fff"/><stop offset="1" stop-color="#333"/></linearGradient>
<mask id="mL" maskUnits="userSpaceOnUse" x="330" y="22" width="214" height="214"><rect x="330" y="22" width="214" height="214" fill="url(#gL)"/></mask>
<mask id="mR" maskUnits="userSpaceOnUse" x="330" y="22" width="214" height="214"><rect x="330" y="22" width="214" height="214" fill="url(#gR)"/></mask>
<mask id="mH" maskUnits="userSpaceOnUse" x="330" y="22" width="214" height="214"><rect x="330" y="22" width="214" height="214" fill="url(#gH)"/></mask>
<filter id="blurS" x="-20%" y="-20%" width="140%" height="140%"><feGaussianBlur stdDeviation="0.8"/></filter>
</defs>
<defs><filter id="mnoise" x="330" y="22" width="214" height="214" filterUnits="userSpaceOnUse" color-interpolation-filters="sRGB">
<feTurbulence type="fractalNoise" baseFrequency="0.8" numOctaves="2" seed="5" result="t"/>
<feColorMatrix in="t" type="matrix" values="1 0 0 0 0  1 0 0 0 0  1 0 0 0 0  0 0 0 0 1" result="n"/>
<feComposite in="SourceGraphic" in2="n" operator="arithmetic" k1="0.9" k2="0.55" k3="0.28" k4="-0.12"/>
</filter></defs>
<g clip-path="url(#clipC)"><g filter="url(#mnoise)"><rect x="330" y="22" width="214" height="214" fill="#080808"/><g fill="#fff" filter="url(#halo)" opacity="0.55"><g>
<ellipse cx="459.2" cy="114" rx="40.8" ry="43.5"/>
<rect x="418.75" y="112" width="81.25" height="62" rx="4.5"/>
<rect x="354.6" y="151.4" width="145.4" height="22.6" rx="8"/>
<path d="M361,72.9 C365,72.8 368,75.5 371,79.2 L418.5,115.5 L430,113 L430,153 L418,151.4 C415,147 413,144 411,141 L358.5,98.2 C356,96.5 354.4,93.5 354.4,90 L354.4,80 C354.4,76 357,73 361,72.9 Z"/>
</g></g><g fill="#fff" filter="url(#halo2)" opacity="0.25"><g>
<ellipse cx="459.2" cy="114" rx="40.8" ry="43.5"/>
<rect x="418.75" y="112" width="81.25" height="62" rx="4.5"/>
<rect x="354.6" y="151.4" width="145.4" height="22.6" rx="8"/>
<path d="M361,72.9 C365,72.8 368,75.5 371,79.2 L418.5,115.5 L430,113 L430,153 L418,151.4 C415,147 413,144 411,141 L358.5,98.2 C356,96.5 354.4,93.5 354.4,90 L354.4,80 C354.4,76 357,73 361,72.9 Z"/>
</g></g><ellipse cx="452" cy="74" rx="30" ry="14" fill="#fff" opacity="0.22" filter="url(#halo)"/><ellipse cx="435" cy="177" rx="40" ry="7" fill="#fff" opacity="0.18" filter="url(#halo)"/></g><g fill="#fff" filter="url(#blur1)"><g>
<ellipse cx="459.2" cy="114" rx="40.8" ry="43.5"/>
<rect x="418.75" y="112" width="81.25" height="62" rx="4.5"/>
<rect x="354.6" y="151.4" width="145.4" height="22.6" rx="8"/>
<path d="M361,72.9 C365,72.8 368,75.5 371,79.2 L418.5,115.5 L430,113 L430,153 L418,151.4 C415,147 413,144 411,141 L358.5,98.2 C356,96.5 354.4,93.5 354.4,90 L354.4,80 C354.4,76 357,73 361,72.9 Z"/>
</g></g><g mask="url(#mR)"><g filter="url(#mnoise)"><rect x="330" y="22" width="214" height="214" fill="#080808"/><g fill="#fff" filter="url(#halo)" opacity="0.15"><g>
<ellipse cx="459.2" cy="114" rx="40.8" ry="43.5"/>
<rect x="418.75" y="112" width="81.25" height="62" rx="4.5"/>
<rect x="354.6" y="151.4" width="145.4" height="22.6" rx="8"/>
<path d="M361,72.9 C365,72.8 368,75.5 371,79.2 L418.5,115.5 L430,113 L430,153 L418,151.4 C415,147 413,144 411,141 L358.5,98.2 C356,96.5 354.4,93.5 354.4,90 L354.4,80 C354.4,76 357,73 361,72.9 Z"/>
</g></g></g><g fill="#fff" filter="url(#blurS)"><g>
<ellipse cx="459.2" cy="114" rx="40.8" ry="43.5"/>
<rect x="418.75" y="112" width="81.25" height="62" rx="4.5"/>
<rect x="354.6" y="151.4" width="145.4" height="22.6" rx="8"/>
<path d="M361,72.9 C365,72.8 368,75.5 371,79.2 L418.5,115.5 L430,113 L430,153 L418,151.4 C415,147 413,144 411,141 L358.5,98.2 C356,96.5 354.4,93.5 354.4,90 L354.4,80 C354.4,76 357,73 361,72.9 Z"/>
</g></g></g></g>
<rect x="476.1" y="124.7" width="47.5" height="26.7" fill="#ffff00" fill-opacity="0.33"/>
<line x1="476.6" y1="138.2" x2="523.6" y2="137.6" stroke="#ffff00" stroke-width="0.9" stroke-opacity="0.45"/>
<circle cx="476.4" cy="138.2" r="0.7" fill="#303010" fill-opacity="0.8"/>
<rect x="491" y="218.8" width="48.3" height="1.2" fill="#fff"/>
<text x="515.7" y="230" font-size="9.2" font-weight="bold" fill="#fff" text-anchor="middle" font-family="'Liberation Sans', Arial, sans-serif">1 mm</text>
<g font-family="'Liberation Serif', 'Times New Roman', serif" font-size="15.5" fill="#000" text-anchor="middle">
<text x="151.7" y="135.6"><tspan font-size="16.6">(</tspan><tspan font-weight="bold">a</tspan><tspan font-size="16.6">)</tspan></text>
<text x="151.6" y="271.1"><tspan font-size="16.6">(</tspan><tspan font-weight="bold">b</tspan><tspan font-size="16.6">)</tspan></text>
<text x="437.6" y="254.9"><tspan font-size="16.6">(</tspan><tspan font-weight="bold">c</tspan><tspan font-size="16.6">)</tspan></text>
</g>
</svg>
</body></html>
